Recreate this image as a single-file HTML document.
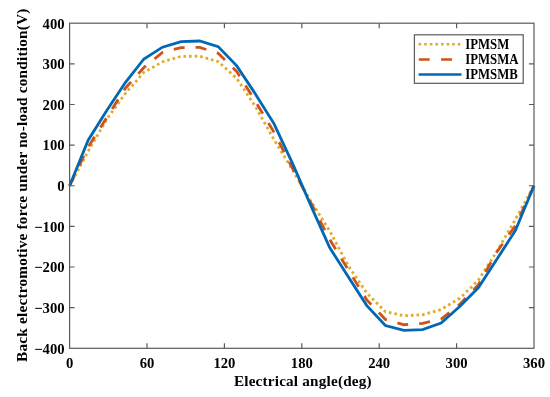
<!DOCTYPE html>
<html><head><meta charset="utf-8"><style>
html,body{margin:0;padding:0;background:#fff;width:550px;height:397px;overflow:hidden}
svg{display:block}
</style></head><body>
<svg width="550" height="397" viewBox="0 0 550 397">
<rect width="550" height="397" fill="#fff"/>
<g fill="none" stroke-linejoin="miter" stroke-width="2.8">
<polyline points="69.60,185.75 88.18,151.21 106.75,119.31 125.33,93.50 143.90,72.37 162.48,61.81 181.06,56.32 199.63,56.20 218.21,61.60 236.78,78.47 255.36,106.51 273.94,139.42 292.51,169.90 311.09,201.60 329.66,230.86 348.24,265.81 366.82,293.03 385.39,311.73 403.97,315.79 422.54,314.77 441.12,309.49 459.70,298.32 478.27,280.44 496.85,251.38 515.42,219.48 534.00,185.75" stroke="#E2AA26" stroke-dasharray="2.6 3.0"/>
<polyline points="69.60,185.75 88.18,147.14 106.75,117.48 125.33,88.22 143.90,67.49 162.48,52.46 181.06,47.58 199.63,47.42 218.21,53.27 236.78,71.56 255.36,101.22 273.94,132.11 292.51,168.28 311.09,203.22 329.66,239.39 348.24,269.87 366.82,299.94 385.39,319.45 403.97,324.73 422.54,323.31 441.12,319.04 459.70,304.41 478.27,284.91 496.85,251.99 515.42,225.57 534.00,185.75" stroke="#D05119" stroke-dasharray="11 11"/>
<polyline points="69.60,185.75 88.18,140.24 106.75,110.57 125.33,82.53 143.90,58.96 162.48,47.18 181.06,41.69 199.63,41.00 218.21,46.61 236.78,65.87 255.36,93.91 273.94,123.57 292.51,163.40 311.09,206.07 329.66,247.52 348.24,276.78 366.82,305.63 385.39,325.54 403.97,330.42 422.54,329.61 441.12,323.10 459.70,306.44 478.27,287.75 496.85,259.30 515.42,230.45 534.00,185.75" stroke="#0068B4"/>
</g>
<rect x="69.6" y="23.2" width="464.40" height="325.10" fill="none" stroke="#5a5a5a" stroke-width="1.2"/>
<path d="M147.00,348.3v-5M147.00,23.2v5M224.40,348.3v-5M224.40,23.2v5M301.80,348.3v-5M301.80,23.2v5M379.20,348.3v-5M379.20,23.2v5M456.60,348.3v-5M456.60,23.2v5M69.6,307.66h5M534.0,307.66h-5M69.6,267.02h5M534.0,267.02h-5M69.6,226.39h5M534.0,226.39h-5M69.6,185.75h5M534.0,185.75h-5M69.6,145.11h5M534.0,145.11h-5M69.6,104.48h5M534.0,104.48h-5M69.6,63.84h5M534.0,63.84h-5" stroke="#5a5a5a" stroke-width="1.2" fill="none"/>
<g font-family='"Liberation Serif", "Times New Roman", serif' font-weight="bold" font-size="14.67" fill="#000">
<text x="69.60" y="368" text-anchor="middle">0</text>
<text x="147.00" y="368" text-anchor="middle">60</text>
<text x="224.40" y="368" text-anchor="middle">120</text>
<text x="301.80" y="368" text-anchor="middle">180</text>
<text x="379.20" y="368" text-anchor="middle">240</text>
<text x="456.60" y="368" text-anchor="middle">300</text>
<text x="534.00" y="368" text-anchor="middle">360</text>
<text x="64.6" y="353.60" text-anchor="end">−400</text>
<text x="64.6" y="312.96" text-anchor="end">−300</text>
<text x="64.6" y="272.32" text-anchor="end">−200</text>
<text x="64.6" y="231.69" text-anchor="end">−100</text>
<text x="64.6" y="191.05" text-anchor="end">0</text>
<text x="64.6" y="150.41" text-anchor="end">100</text>
<text x="64.6" y="109.78" text-anchor="end">200</text>
<text x="64.6" y="69.14" text-anchor="end">300</text>
<text x="64.6" y="28.50" text-anchor="end">400</text>
<text x="302.85" y="386.2" text-anchor="middle" font-size="15.2" letter-spacing="0.2">Electrical angle(deg)</text>
<text transform="translate(26.7,185.2) rotate(-90)" text-anchor="middle" font-size="15.3" letter-spacing="0.19">Back electromotive force under no-load condition(V)</text>
</g>
<rect x="414.4" y="34.8" width="108.8" height="48.5" fill="#fff" stroke="#5a5a5a" stroke-width="1.2"/>
<g fill="none" stroke-width="2.6">
<line x1="418.6" y1="44.25" x2="461.5" y2="44.25" stroke="#E2AA26" stroke-dasharray="2.6 3.0"/>
<line x1="418.8" y1="59.5" x2="461.5" y2="59.5" stroke="#D05119" stroke-dasharray="10.9 11.4"/>
<line x1="418.6" y1="74.5" x2="461.5" y2="74.5" stroke="#0068B4"/>
</g>
<g font-family='"Liberation Serif", "Times New Roman", serif' font-weight="bold" font-size="13" fill="#000">
<text transform="translate(465.2,48.9) scale(0.985,1.045)">IPMSM</text>
<text transform="translate(465.2,63.9) scale(0.985,1.045)">IPMSMA</text>
<text transform="translate(465.2,78.7) scale(0.985,1.045)">IPMSMB</text>
</g>
</svg>
</body></html>
